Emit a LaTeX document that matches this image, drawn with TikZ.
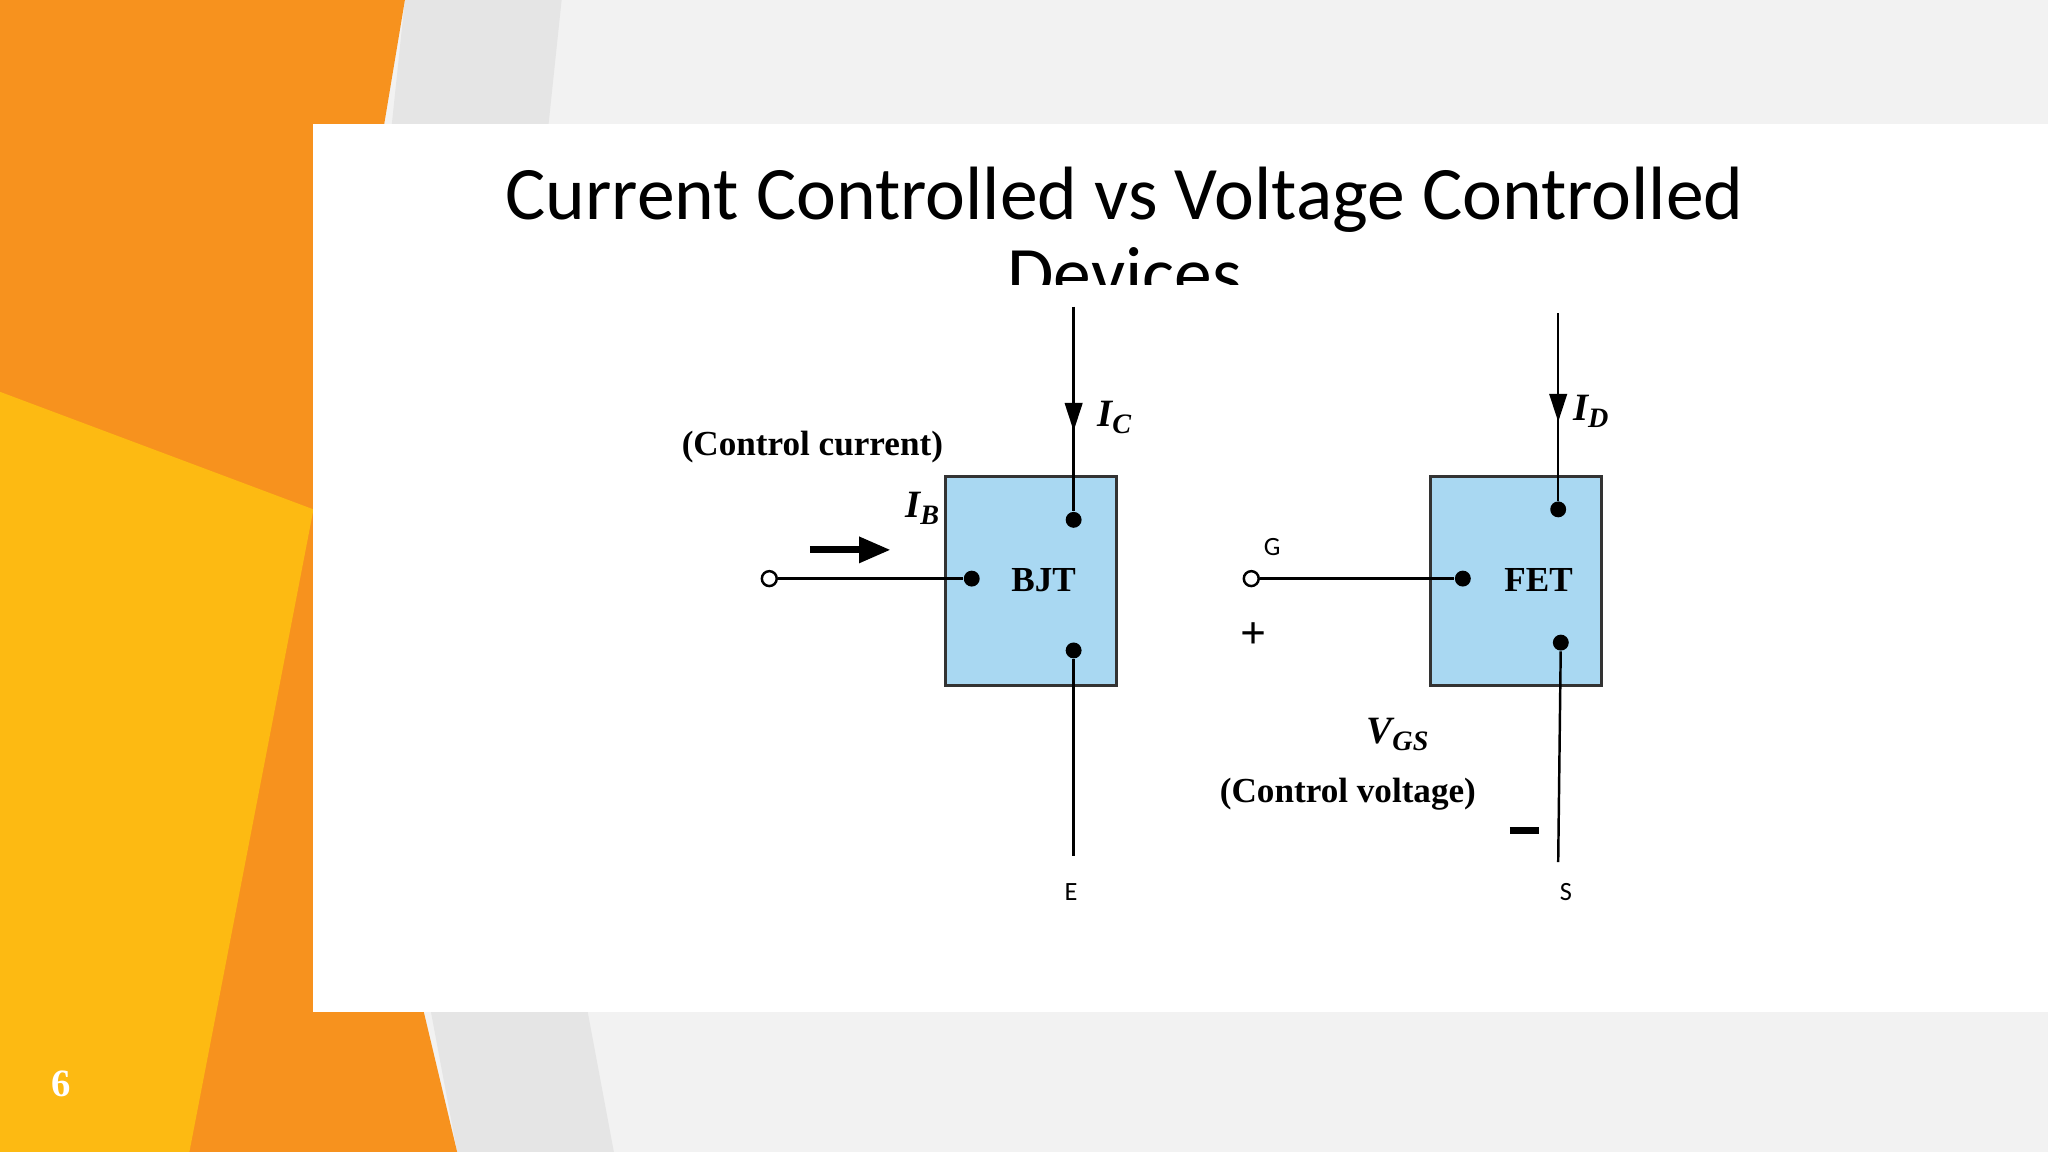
\documentclass[tikz,border=0pt]{standalone}
\usepackage{fontspec}
\setmainfont{Liberation Serif}
\newfontfamily\titlefont{Carlito}
\usetikzlibrary{positioning,arrows.meta}
\definecolor{boxblue}{HTML}{A9D8F2}
\definecolor{slideorange}{HTML}{F7921E}
\definecolor{slideyellow}{HTML}{FDBA12}
\tikzset{
  block/.style={draw=black!80, line width=0.9pt, fill=boxblue},
  lead/.style={black, line width=0.7pt},
  pin/.style={circle, fill=black, inner sep=1.6pt},
  open pin/.style={circle, draw=black, fill=white, line width=0.7pt, inner sep=1.5pt},
  lbl/.style={font=\bfseries\fontsize{10}{12}\selectfont},
  term/.style={font=\titlefont\fontsize{7.5}{9}\selectfont},
  flow/.style={lead, -{Triangle[length=8pt,width=5pt]}},
}
\begin{document}
\begin{tikzpicture}[x=0.013061cm, y=-0.013061cm]
\useasboundingbox (0,0) rectangle (1568,882);
% slide background
\fill[black!5] (0,0) rectangle (1568,882);
\fill[black!10] (310,0) -- (430,0) -- (420,95) -- (300,95) -- cycle;
\fill[black!10] (330,775) -- (450,775) -- (470,882) -- (350,882) -- cycle;
\fill[slideorange] (0,0) -- (310,0) -- (240,420) -- (350,882) -- (0,882) -- cycle;
\fill[slideyellow] (0,300) -- (240,390) -- (145,882) -- (0,882) -- cycle;
\fill[white] (240,95) rectangle (1568,775);
\node[text=white, font=\bfseries\fontsize{11}{13}\selectfont] (page) at (47,830) {6};
% title, second line cut off
\begin{scope}
\clip (240,95) rectangle (1568,218);
\node[font=\titlefont\fontsize{21.5}{23}\selectfont, align=center, anchor=north] (title) at (861,118)
  {Current Controlled vs Voltage Controlled\\Devices};
\end{scope}

% BJT
\draw[block] (724,365) rectangle (855,525);
\node[lbl] (bjt) at (799,444) {BJT};
\coordinate (Ctop) at (822,235);
\node[pin] (C) at (822,398) {};
\node[pin] (Em) at (822,498) {};
\coordinate (Ebot) at (822,655);
\node[pin] (B) at (744,443) {};
\node[open pin] (Bin) at (589,443) {};
\draw[lead] (Ctop) -- (C);
\draw[flow] (Ctop) -- (822,330);
\draw[lead] (Em) -- (Ebot);
\draw[lead] (Bin) -- (B);
\coordinate (arrA) at (620,421);
\coordinate (arrB) at (682,421);
\draw[line width=2pt, -{Triangle[length=9pt,width=7pt]}] (arrA) -- (arrB);
\node[font=\bfseries\itshape\fontsize{11}{13}\selectfont] (Ic) at (853,320) {I\raisebox{-2pt}{\fontsize{8}{9}\selectfont C}};
\node[font=\bfseries\itshape\fontsize{11}{13}\selectfont] (Ib) at (706,389) {I\raisebox{-2pt}{\fontsize{8}{9}\selectfont B}};
\node[lbl] (ctrlI) at (622,342) {(Control current)};
\node[term] (E) at (820,683) {E};

% FET
\draw[block] (1095,365) rectangle (1226,525);
\node[lbl] (fet) at (1178,444) {FET};
\coordinate (Dtop) at (1193,240);
\node[pin] (D) at (1193,390) {};
\node[pin] (Sm) at (1195,492) {};
\coordinate (Sbot) at (1193,660);
\node[pin] (Gm) at (1120,443) {};
\node[open pin] (Gin) at (958,443) {};
\draw[lead] (Dtop) -- (D);
\draw[flow] (Dtop) -- (1193,323);
\draw[lead] (Sm) -- (Sbot);
\draw[lead] (Gin) -- (Gm);
\node[font=\bfseries\itshape\fontsize{11}{13}\selectfont] (Id) at (1218,315) {I\raisebox{-2pt}{\fontsize{8}{9}\selectfont D}};
\node[term] (G) at (974,419) {G};
\node[font=\bfseries\fontsize{13}{14}\selectfont] (plus) at (960,487) {+};
\node[font=\bfseries\itshape\fontsize{11}{13}\selectfont] (Vgs) at (1070,562) {V\raisebox{-2pt}{\fontsize{8}{9}\selectfont GS}};
\node[lbl] (ctrlV) at (1032,608) {(Control voltage)};
\coordinate (minA) at (1156,636);
\coordinate (minB) at (1178,636);
\draw[line width=2pt] (minA) -- (minB);
\node[term] (S) at (1199,683) {S};
\end{tikzpicture}
\end{document}
